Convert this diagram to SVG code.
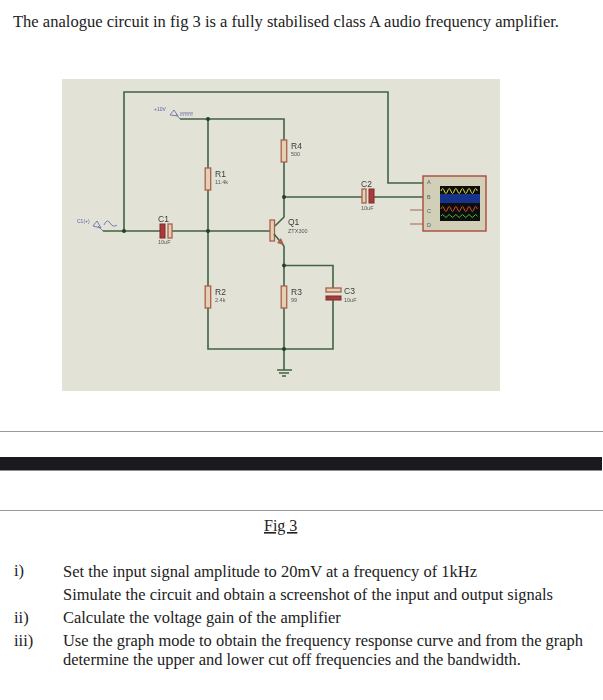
<svg xmlns="http://www.w3.org/2000/svg" width="603" height="700" viewBox="0 0 603 700">
<defs><filter id="soft" x="-2%" y="-2%" width="104%" height="104%"><feGaussianBlur stdDeviation="0.35"/></filter></defs>
<style>
.t{font-family:"Liberation Serif",serif;fill:#222}
.b{font-size:16.47px}
.w{fill:none;stroke:#3f6344;stroke-width:1.6}
.r{fill:#e6cfb4;stroke:#a8604a;stroke-width:1.3}
.c{fill:#a83a3a;stroke:#7c2a2a}
.l{font-family:"Liberation Sans",sans-serif;font-size:8.5px;fill:#3a3a3a}
.s{font-family:"Liberation Sans",sans-serif;font-size:5.500px;fill:#555}
.p{font-family:"Liberation Sans",sans-serif;font-size:5px;fill:#5a5fa8}
.v{fill:none;stroke:#6a70b0;stroke-width:.9}
.d{fill:#24402a}
.lead{fill:none;stroke:#a8604a;stroke-width:1.2}
.tr{fill:none;stroke-width:1}
</style>
<rect width="603" height="700" fill="#fff"/>
<text class="t" x="13" y="27" font-size="16.1" textLength="546" lengthAdjust="spacingAndGlyphs">The analogue circuit in fig 3 is a fully stabilised class A audio frequency amplifier.</text>
<g filter="url(#soft)">
<rect x="62" y="79" width="438" height="312" fill="#e2e3d6"/>
<g id="connectors">
<path class="w" d="M124 231V92H388V183H423"/>
<path class="w" d="M103 231H160M172 231H270"/>
<path class="w" d="M180 119H284V140M284 162V217L275 226"/>
<path class="w" d="M208 119V168M208 190V286M208 308V349H284"/>
<path class="w" d="M284 197H362M374 197H423"/>
<path class="w" d="M284 246V286M284 308V370M284 265.500H333V288M333 300V349H284"/>
<path class="w" d="M277 370H292M279 373H289M282 376H286"/>
</g>
<g id="junctions">
<circle class="d" cx="124" cy="231" r="2"/><circle class="d" cx="208" cy="119" r="2"/><circle class="d" cx="208" cy="231" r="2"/><circle class="d" cx="284" cy="197" r="2"/><circle class="d" cx="284" cy="265.500" r="2"/><circle class="d" cx="284" cy="349" r="2"/>
</g>
<g id="V1"><text class="p" x="154" y="111">+10V</text><path class="v" d="M170 115L174 110L178 116ZM180 119L176 114"/><path class="v" stroke-dasharray="1.500 1" d="M180 115H193"/><path class="v" d="M180 113H193"/></g>
<g id="Vin"><text class="p" x="77" y="223">C1(+)</text><path class="v" d="M93 226L97 221L101 228ZM103 231L98 226M104 225Q107 218 110 223T117 225"/></g>
<g id="C1"><rect class="c" x="160" y="224" width="5" height="14"/><rect class="r" x="168" y="224" width="4" height="14"/><text class="l" x="158" y="222">C1</text><text class="s" x="158" y="244">10uF</text></g>
<g id="R1"><rect class="r" x="205.200" y="168" width="5.500" height="22"/><text class="l" x="215" y="177">R1</text><text class="s" x="215" y="184">11.4k</text></g>
<g id="R2"><rect class="r" x="205.200" y="286" width="5.500" height="22"/><text class="l" x="215" y="295">R2</text><text class="s" x="215" y="302">2.4k</text></g>
<g id="R3"><rect class="r" x="281.200" y="286" width="5.500" height="22"/><text class="l" x="291" y="295">R3</text><text class="s" x="291" y="302">99</text></g>
<g id="R4"><rect class="r" x="281.200" y="140" width="5.500" height="22"/><text class="l" x="291" y="149">R4</text><text class="s" x="291" y="156">500</text></g>
<g id="Q1"><rect class="r" x="270" y="220" width="4.500" height="21"/><path d="M274 234L284 246" stroke="#3f6344" stroke-width="1.600"/><path d="M284 245L277 243L281 238Z" fill="#a8604a"/><text class="l" x="288" y="225">Q1</text><text class="s" x="288" y="233">ZTX300</text></g>
<g id="C2"><rect class="r" x="362" y="189" width="4" height="14"/><rect class="c" x="369" y="189" width="5" height="14"/><text class="l" x="361" y="187">C2</text><text class="s" x="361" y="210">10uF</text></g>
<g id="C3"><rect class="r" x="326" y="288" width="15" height="4"/><rect class="c" x="326" y="296" width="15" height="4"/><text class="l" x="344" y="294">C3</text><text class="s" x="344" y="302">10uF</text></g>
<g id="scope"><rect x="423" y="176" width="63" height="55" fill="#d2cfb8" stroke="#a84a3a" stroke-width="1.400"/>
<path class="lead" d="M410 210H423M410 224H423"/>
<text class="s" x="427" y="184">A</text><text class="s" x="427" y="198.500">B</text><text class="s" x="427" y="213">C</text><text class="s" x="427" y="226.500">D</text>
<rect x="440" y="186" width="40" height="35" fill="#101010"/><rect x="440" y="194" width="40" height="9" fill="#14308a"/>
<path class="tr" d="M441 191q1.650-5 3.300 0t3.300 0 3.300 0 3.300 0 3.300 0 3.300 0 3.300 0 3.300 0 3.300 0 3.300 0 3.300 0" stroke="#d6d83a"/>
<path class="tr" d="M441 209q1.650-5 3.300 0t3.300 0 3.300 0 3.300 0 3.300 0 3.300 0 3.300 0 3.300 0 3.300 0 3.300 0 3.300 0" stroke="#c8502a"/>
<path class="tr" d="M441 216q1.650-3 3.300 0t3.300 0 3.300 0 3.300 0 3.300 0 3.300 0 3.300 0 3.300 0 3.300 0 3.300 0 3.300 0" stroke="#3ac83a"/></g>
</g>
<rect x="0" y="431" width="603" height="1" fill="#999"/>
<rect x="0" y="457" width="602" height="13.500" fill="#1a1a1f"/>
<rect x="0" y="510" width="603" height="1" fill="#999"/>
<text class="t" x="264" y="531" font-size="16" text-decoration="underline">Fig 3</text>
<text class="t b" x="14" y="576">i)</text>
<text class="t b" x="63" y="576.500" textLength="414" lengthAdjust="spacingAndGlyphs">Set the input signal amplitude to 20mV at a frequency of 1kHz</text>
<text class="t b" x="63" y="599.500" textLength="490" lengthAdjust="spacingAndGlyphs">Simulate the circuit and obtain a screenshot of the input and output signals</text>
<text class="t b" x="14" y="622.500">ii)</text>
<text class="t b" x="63" y="622.500">Calculate the voltage gain of the amplifier</text>
<text class="t b" x="14" y="645.500">iii)</text>
<text class="t b" x="63" y="646" textLength="520" lengthAdjust="spacingAndGlyphs">Use the graph mode to obtain the frequency response curve and from the graph</text>
<text class="t b" x="63" y="665">determine the upper and lower cut off frequencies and the bandwidth.</text>
</svg>
